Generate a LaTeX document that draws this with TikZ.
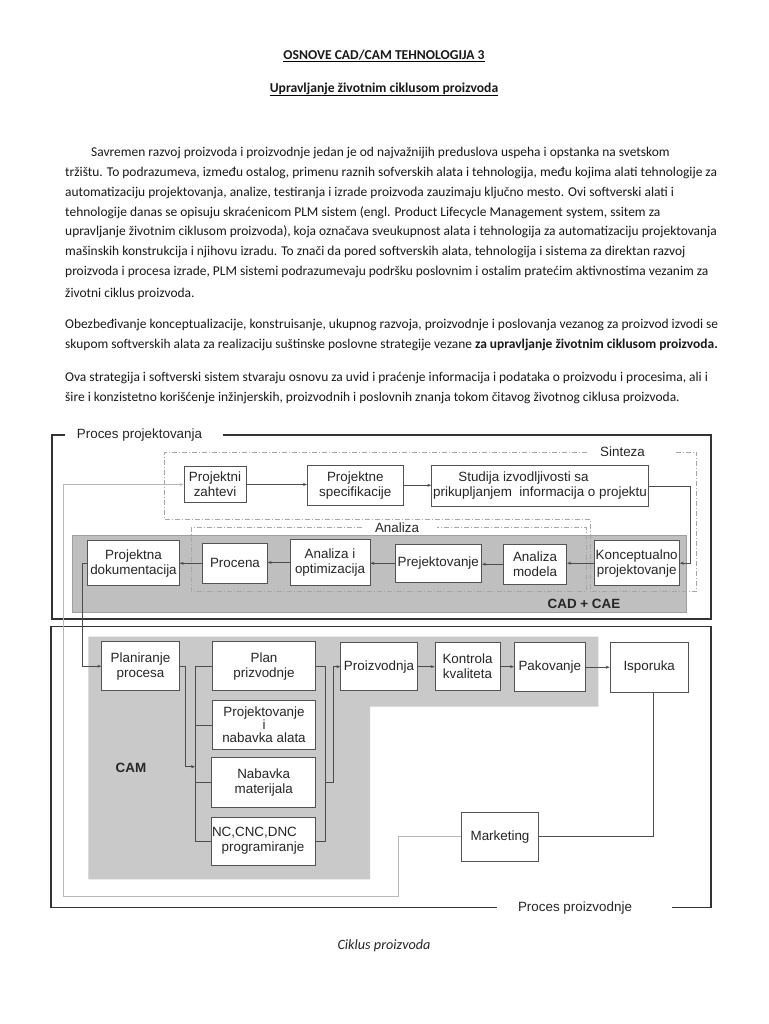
\documentclass[tikz,border=0pt]{standalone}
\usepackage{fontspec}
\setmainfont{Carlito}
\newfontfamily\dijagram{Liberation Sans}
\usetikzlibrary{arrows.meta}

\begin{document}
\begin{tikzpicture}[x=1pt,y=-1pt,
  tekst/.style={anchor=base west,inner sep=0pt,text=black!90,font=\fontsize{13.45}{19.75}\selectfont},
  naslov/.style={anchor=base,inner sep=0pt,text=black!90,font=\bfseries\fontsize{13.6}{19.75}\selectfont},
  blok/.style={draw=gray!65!black,fill=white,line width=0.7pt,text=black!85,align=center,inner sep=1pt,font=\dijagram\fontsize{13.4}{15}\selectfont},
  natpis/.style={inner sep=0pt,text=black!85,font=\dijagram\fontsize{13.4}{15}\selectfont},
  strelica/.style={draw=black!70,line width=0.6pt,-{Stealth[length=4pt,width=3pt]}},
  linija/.style={draw=black!70,line width=0.6pt},
  povrat/.style={draw=gray!55,line width=0.8pt,-{Stealth[length=4pt,width=3pt]}},
  okvir/.style={draw=black!80,line width=1.4pt},
  crtatacka/.style={draw=gray!70,line width=0.7pt,dash pattern=on 5pt off 2pt on 1pt off 2pt}]
\fill[white] (0,0) rectangle (768,1024);
\useasboundingbox (0,0) rectangle (768,1024);

% naslovi
\node[naslov] (nas1) at (384,59.6) {OSNOVE CAD/CAM TEHNOLOGIJA 3};
\node[naslov] (nas2) at (384,93) {Upravljanje životnim ciklusom proizvoda};
\draw[line width=0.8pt] ([yshift=-2pt]nas1.base west) -- ([yshift=-2pt]nas1.base east);
\draw[line width=0.8pt] ([yshift=-2pt]nas2.base west) -- ([yshift=-2pt]nas2.base east);

% tekst
\node[tekst] at (91,157) {Savremen razvoj proizvoda i proizvodnje jedan je od najvažnijih preduslova uspeha i opstanka na svetskom};
\node[tekst] at (65,176.75) {tržištu. To podrazumeva, između ostalog, primenu raznih sofverskih alata i tehnologija, među kojima alati tehnologije za};
\node[tekst] at (65,196.5) {automatizaciju projektovanja, analize, testiranja i izrade proizvoda zauzimaju ključno mesto. Ovi softverski alati i};
\node[tekst] at (65,216.25) {tehnologije danas se opisuju skraćenicom PLM sistem (engl. Product Lifecycle Management system, ssitem za};
\node[tekst] at (65,236) {upravljanje životnim ciklusom proizvoda), koja označava sveukupnost alata i tehnologija za automatizaciju projektovanja};
\node[tekst] at (65,255.75) {mašinskih konstrukcija i njihovu izradu. To znači da pored softverskih alata, tehnologija i sistema za direktan razvoj};
\node[tekst] at (65,275.5) {proizvoda i procesa izrade, PLM sistemi podrazumevaju podršku poslovnim i ostalim pratećim aktivnostima vezanim za};
\node[tekst] at (65,297) {životni ciklus proizvoda.};
\node[tekst] at (65,328) {Obezbeđivanje konceptualizacije, konstruisanje, ukupnog razvoja, proizvodnje i poslovanja vezanog za proizvod izvodi se};
\node[tekst] at (65,348.5) {skupom softverskih alata za realizaciju suštinske poslovne strategije vezane \textbf{za upravljanje životnim ciklusom proizvoda.}};
\node[tekst] at (65,381.5) {Ova strategija i softverski sistem stvaraju osnovu za uvid i praćenje informacija i podataka o proizvodu i procesima, ali i};
\node[tekst] at (65,401.5) {šire i konzistetno korišćenje inžinjerskih, proizvodnih i poslovnih znanja tokom čitavog životnog ciklusa proizvoda.};

% proces projektovanja
\node[natpis] (lproj) at (139.5,435) {Proces projektovanja};
\draw[okvir] ([xshift=-12pt]lproj.west) -| (52,619) -| (711,435) -- ([xshift=21pt]lproj.east);
\draw[fill=gray!50,draw=gray!75,line width=0.6pt] (72.3,535) rectangle (686,612.7);
\node[natpis,font=\dijagram\bfseries\fontsize{13.4}{15}\selectfont] at (584,604.3) {CAD + CAE};
\node[natpis] at (622.5,452) {Sinteza};
\draw[crtatacka] (586.7,452) -- (164.3,452) -- (164.3,519) -- (590,519) -- (590,591.7) -- (696.7,591.7) -- (696.7,452) -- (675,452);
\node[natpis] at (397,527.3) {Analiza};
\draw[crtatacka] (361.7,527.3) -- (191,527.3) -- (191,591) -- (586,591) -- (586,527.3) -- (436.7,527.3);

\node[blok,minimum width=62pt,minimum height=35.6pt] (pz) at (215,484.5) {Projektni\\zahtevi};
\node[blok,minimum width=96pt,minimum height=39.3pt] (ps) at (355.3,485.3) {Projektne\\specifikacije};
\node[blok,minimum width=216.6pt,minimum height=40.3pt] (st) at (540,485.9) {Studija izvodljivosti sa\hspace*{33pt}\\prikupljanjem\ \ informacija o projektu};
\node[blok,minimum width=91.6pt,minimum height=45pt] (pd) at (133.5,563.2) {Projektna\\dokumentacija};
\node[blok,minimum width=64.6pt,minimum height=40pt] (pr) at (235,563.3) {Procena};
\node[blok,minimum width=80pt,minimum height=46.4pt] (ao) at (330,562.5) {Analiza i\\optimizacija};
\node[blok,minimum width=86.7pt,minimum height=38.7pt] (pj) at (438.3,563.3) {Prejektovanje};
\node[blok,minimum width=63.4pt,minimum height=40.3pt] (am) at (535,564.2) {Analiza\\modela};
\node[blok,minimum width=85.3pt,minimum height=45pt] (kp) at (636.7,563.2) {Konceptualno\\projektovanje};

\draw[strelica] (pz.east) -- (pz.east -| ps.west);
\draw[strelica] (ps.east) -- (ps.east -| st.west);
\draw[strelica] (st.east) -| ([xshift=11pt]kp.east) -- (kp.east);
\draw[strelica] (kp.west) -- (kp.west -| am.east);
\draw[strelica] (am.west) -- (am.west -| pj.east);
\draw[strelica] (pj.west) -- (pj.west -| ao.east);
\draw[strelica] (ao.west) -- (ao.west -| pr.east);
\draw[strelica] (pr.west) -- (pr.west -| pd.east);

% proces proizvodnje
\node[natpis] (lproi) at (575,907.7) {Proces proizvodnje};
\draw[okvir] ([xshift=-21pt]lproi.west) -| (51,626.7) -| (711,907.7) -- ([xshift=40pt]lproi.east);
\fill[gray!42] (88.3,636.7) -- (598.3,636.7) -- (598.3,706.7) -- (370,706.7) -- (370,879.3) -- (88.3,879.3) -- cycle;
\node[natpis,font=\dijagram\bfseries\fontsize{13.4}{15}\selectfont] at (131,768.3) {CAM};

\node[blok,minimum width=77.6pt,minimum height=49pt] (pp) at (140.5,666.2) {Planiranje\\procesa};
\node[blok,minimum width=103.4pt,minimum height=49pt] (pl) at (264,666.2) {Plan\\prizvodnje};
\node[blok,minimum width=103.4pt,minimum height=48.3pt,font=\dijagram\fontsize{13.4}{13.3}\selectfont] (pa) at (264,724.9) {Projektovanje\\i\\nabavka alata};
\node[blok,minimum width=104pt,minimum height=50pt] (nm) at (263.7,782.7) {Nabavka\\materijala};
\node[blok,minimum width=102.6pt,minimum height=47.7pt] (nc) at (263,841.2) {NC,CNC,DNC\hspace*{17pt}\\programiranje};
\node[blok,minimum width=76.6pt,minimum height=48pt] (pv) at (379,666.7) {Proizvodnja};
\node[blok,minimum width=65pt,minimum height=48pt] (kk) at (467.5,666.7) {Kontrola\\kvaliteta};
\node[blok,minimum width=71pt,minimum height=49pt] (pk) at (549.8,667.2) {Pakovanje};
\node[blok,minimum width=78.3pt,minimum height=49.6pt] (is) at (649.2,667.5) {Isporuka};
\node[blok,minimum width=76.6pt,minimum height=48.7pt] (mk) at (500,836.7) {Marketing};

\coordinate (sabL) at (195,700);
\coordinate (sabD) at (325.5,700);
\coordinate (ulaz) at (195,766.7);
\coordinate (dno) at (398,896);
\coordinate (levo) at (63,896);

\draw[strelica] (pd.west) -- ++(-5,0) |- (pp.west);
\draw[strelica] (pp.east) -- ++(6,0) |- (ulaz);
\draw[linija] (pl.west) -- (pl.west -| sabL) -- (nc.west -| sabL) -- (nc.west);
\draw[linija] (pa.west) -- (pa.west -| sabL);
\draw[linija] (nm.west) -- (nm.west -| sabL);
\draw[linija] (pl.east) -- (pl.east -| sabD) -- (nc.east -| sabD) -- (nc.east);
\draw[strelica] (nm.east -| sabD) -- ++(8,0) |- (pv.west);
\draw[strelica] (pv.east) -- (pv.east -| kk.west);
\draw[strelica] (kk.east) -- (kk.east -| pk.west);
\draw[strelica] (pk.east) -- (pk.east -| is.west);
\draw[linija] ([xshift=4pt]is.south) |- (mk.east);
\draw[povrat] (mk.west) -| (dno) -- (levo) |- (pz.west);

\node[anchor=base,inner sep=0pt,text=black!85,font=\itshape\fontsize{14.2}{19.75}\selectfont] (nasl) at (384,949) {Ciklus proizvoda};
\end{tikzpicture}
\end{document}
